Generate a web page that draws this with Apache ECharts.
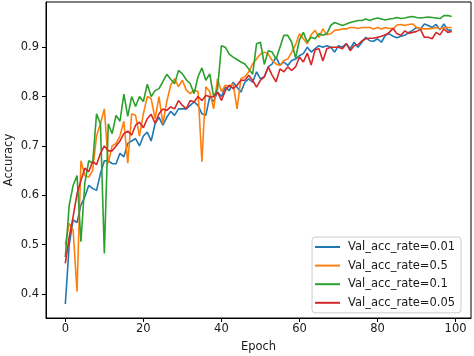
<!DOCTYPE html>
<html>
<head>
<meta charset="utf-8">
<script src="https://cdn.jsdelivr.net/npm/echarts@6/dist/echarts.min.js"></script>
<style>
html,body{margin:0;padding:0;background:#fff;}
#chart{width:474px;height:356px;}
</style>
</head>
<body>
<div id="chart"></div>
<script>
const seriesNames = ['Val_acc_rate=0.01', 'Val_acc_rate=0.5', 'Val_acc_rate=0.1', 'Val_acc_rate=0.05'];
const xTicks = [0, 20, 40, 60, 80, 100];
const yTicks = [0.4, 0.5, 0.6, 0.7, 0.8, 0.9];

const rate001 = [0.38,0.50,0.55,0.545,0.58,0.597,0.62,0.614,0.61,0.644,
0.67,0.67,0.664,0.664,0.685,0.678,0.705,0.71,0.715,0.70,
0.72,0.728,0.71,0.745,0.758,0.742,0.758,0.77,0.762,0.775,
0.775,0.775,0.782,0.789,0.782,0.765,0.762,0.80,0.79,0.809,
0.80,0.819,0.812,0.829,0.819,0.809,0.829,0.836,0.829,0.85,
0.836,0.84,0.86,0.866,0.88,0.863,0.87,0.863,0.873,0.876,
0.883,0.887,0.90,0.89,0.897,0.903,0.90,0.903,0.90,0.89,
0.903,0.90,0.907,0.897,0.91,0.90,0.91,0.92,0.913,0.912,
0.917,0.91,0.924,0.927,0.922,0.919,0.922,0.924,0.93,0.934,
0.94,0.937,0.947,0.944,0.94,0.946,0.935,0.947,0.935,0.934];

const rate05 = [0.50,0.543,0.53,0.405,0.67,0.64,0.637,0.65,0.72,0.745,
0.775,0.665,0.70,0.705,0.72,0.75,0.665,0.765,0.762,0.72,
0.765,0.80,0.796,0.755,0.80,0.745,0.79,0.823,0.836,0.82,
0.833,0.813,0.806,0.813,0.81,0.668,0.82,0.81,0.775,0.836,
0.81,0.823,0.82,0.826,0.775,0.836,0.84,0.85,0.866,0.876,
0.886,0.89,0.886,0.873,0.866,0.863,0.873,0.876,0.89,0.905,
0.927,0.917,0.907,0.925,0.934,0.92,0.937,0.925,0.927,0.934,
0.935,0.937,0.937,0.94,0.94,0.938,0.94,0.94,0.94,0.937,
0.94,0.937,0.94,0.938,0.937,0.945,0.946,0.944,0.946,0.947,
0.94,0.938,0.937,0.937,0.938,0.94,0.937,0.94,0.94,0.94];

const rate01 = [0.475,0.58,0.62,0.64,0.506,0.625,0.67,0.665,0.765,0.745,
0.482,0.745,0.725,0.762,0.75,0.805,0.76,0.80,0.78,0.80,
0.79,0.825,0.80,0.812,0.816,0.83,0.845,0.835,0.826,0.853,
0.846,0.834,0.826,0.806,0.84,0.858,0.833,0.846,0.80,0.815,
0.903,0.90,0.886,0.88,0.875,0.87,0.866,0.856,0.845,0.907,
0.91,0.865,0.893,0.89,0.876,0.90,0.924,0.924,0.91,0.878,
0.915,0.93,0.91,0.92,0.917,0.927,0.924,0.927,0.944,0.95,
0.947,0.944,0.947,0.95,0.952,0.954,0.954,0.957,0.954,0.957,
0.959,0.957,0.955,0.957,0.958,0.96,0.958,0.959,0.961,0.962,
0.96,0.959,0.96,0.961,0.96,0.959,0.958,0.964,0.964,0.962];

const rate005 = [0.462,0.516,0.557,0.603,0.63,0.655,0.648,0.668,0.662,0.685,
0.70,0.69,0.69,0.70,0.71,0.725,0.73,0.722,0.742,0.748,
0.737,0.755,0.764,0.746,0.765,0.775,0.772,0.779,0.775,0.792,
0.782,0.775,0.792,0.789,0.80,0.792,0.802,0.80,0.799,0.809,
0.792,0.812,0.823,0.816,0.823,0.833,0.833,0.843,0.833,0.819,
0.833,0.84,0.86,0.843,0.83,0.856,0.85,0.86,0.853,0.86,
0.88,0.87,0.888,0.864,0.895,0.897,0.872,0.897,0.90,0.90,
0.90,0.897,0.907,0.893,0.903,0.905,0.913,0.917,0.918,0.918,
0.92,0.922,0.925,0.93,0.938,0.927,0.924,0.933,0.928,0.93,
0.932,0.936,0.92,0.92,0.917,0.93,0.925,0.937,0.93,0.932];

const allValues = [rate001, rate05, rate01, rate005];
const colors = ['#1f77b4', '#ff7f0e', '#2ca02c', '#d62728'];

const chart = echarts.init(document.getElementById('chart'), null, {renderer: 'canvas'});
const textColor = '#1a1a1a';
const font = 'DejaVu Sans';
const fs = 11.5;

chart.setOption({
  animation: false,
  backgroundColor: '#fff',
  grid: {left: 46, right: 3, top: 2, bottom: 38, show: true, borderColor: '#000', borderWidth: 1,
         containLabel: false, outerBoundsMode: 'none'},
  legend: {
    orient: 'vertical',
    left: 312, top: 237,
    data: seriesNames,
    icon: 'rect',
    itemWidth: 25, itemHeight: 2, itemGap: 4.6,
    padding: [3, 6, 3, 3],
    backgroundColor: 'rgba(255,255,255,0.85)',
    borderColor: '#cccccc', borderWidth: 1, borderRadius: 3,
    textStyle: {fontFamily: font, fontSize: fs, color: textColor, lineHeight: 14, padding: [0, 0, 0, 3]}
  },
  xAxis: {
    type: 'value', min: -4.95, max: 103.95,
    name: 'Epoch', nameLocation: 'middle', nameGap: 23, nameMoveOverlap: false,
    nameTextStyle: {fontFamily: font, fontSize: fs, color: textColor},
    axisLine: {show: true, onZero: false, lineStyle: {color: '#000', width: 1}},
    axisTick: {show: true, length: 4, customValues: xTicks, lineStyle: {color: '#000'}},
    axisLabel: {customValues: xTicks, margin: 5, fontFamily: font, fontSize: fs, color: textColor},
    splitLine: {show: false}
  },
  yAxis: {
    type: 'value', min: 0.3515, max: 0.9915,
    name: 'Accuracy', nameLocation: 'middle', nameGap: 31, nameMoveOverlap: false,
    nameTextStyle: {fontFamily: font, fontSize: fs, color: textColor},
    axisLine: {show: true, onZero: false, lineStyle: {color: '#000', width: 1}},
    axisTick: {show: true, length: 4, customValues: yTicks, lineStyle: {color: '#000'}},
    axisLabel: {customValues: yTicks, margin: 7, fontFamily: font, fontSize: fs, color: textColor,
      formatter: v => v.toFixed(1)},
    splitLine: {show: false}
  },
  series: seriesNames.map((name, k) => ({
    name: name,
    type: 'line',
    symbol: 'none',
    data: allValues[k].map((v, i) => [i, v]),
    lineStyle: {color: colors[k], width: 1.6},
    itemStyle: {color: colors[k]},
    z: 2 + k
  }))
});
</script>
</body>
</html>
